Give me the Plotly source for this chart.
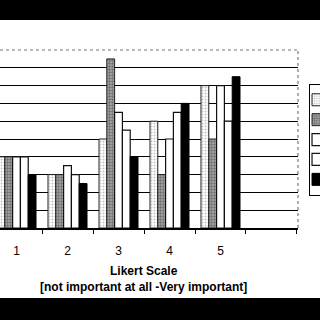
import plotly.graph_objects as go

categories = [1, 2, 3, 4, 5]
tick_labels = ["1", "2", "3", "4", "5"]
# legend labels lie outside the cropped picture in the reference, so they are blank
series_names = [" ", "  ", "   ", "    ", "     "]
s1 = [4, 3, 5, 6, 8]
s2 = [4, 3, 9.5, 3, 5]
s3 = [4, 3.5, 6.5, 5, 8]
s4 = [4, 3, 5.5, 6.5, 6]
s5 = [3, 2.5, 4, 7, 8.5]
values = [s1, s2, s3, s4, s5]

styles = [
    dict(color="#f2f2f2", line=dict(color="#222", width=1),
         pattern=dict(shape=".", fgcolor="#888", bgcolor="#ffffff", size=3, solidity=0.35)),
    dict(color="#777", line=dict(color="#222", width=1),
         pattern=dict(shape=".", fgcolor="#333", bgcolor="#aaaaaa", size=3, solidity=0.5)),
    dict(color="#ffffff", line=dict(color="#111", width=1.2)),
    dict(color="#ffffff", line=dict(color="#111", width=1.2)),
    dict(color="#000000", line=dict(color="#000", width=1)),
]

fig = go.Figure()
for name, vals, st in zip(series_names, values, styles):
    fig.add_trace(go.Bar(x=categories, y=vals, name=name, marker=st))

fig.update_layout(
    width=320, height=320,
    margin=dict(l=0, r=22, t=50, b=92, autoexpand=False),
    paper_bgcolor="white", plot_bgcolor="white",
    barmode="group", bargap=0.235, bargroupgap=0,
    font=dict(family="Liberation Sans, Arial", color="black", size=12),
    showlegend=True,
    legend=dict(x=1.037, xanchor="left", y=0.81, yanchor="top",
                bordercolor="black", borderwidth=1, bgcolor="white",
                font=dict(size=13), indentation=-12, itemwidth=30),
    xaxis=dict(range=[0.676, 6.52], tickmode="array", tickvals=categories,
               ticktext=tick_labels, ticks="", showgrid=False, zeroline=False,
               showline=True, linecolor="black", linewidth=1.5,
               ticklabelstandoff=11,
               minor=dict(tickmode="array", tickvals=[1.5, 2.5, 3.5, 4.5, 5.5, 6.5],
                          ticks="outside", ticklen=4, tickcolor="black", showgrid=False),
               tickfont=dict(size=12)),
    yaxis=dict(range=[0, 10], tickmode="array", tickvals=[1, 2, 3, 4, 5, 6, 7, 8, 9],
               showticklabels=False, showgrid=True, gridcolor="black", gridwidth=1.3,
               zeroline=False, showline=False),
    shapes=[
        dict(type="line", xref="paper", yref="paper", x0=0, x1=1, y0=1, y1=1,
             line=dict(color="#777", width=1.2, dash="dot")),
        dict(type="line", xref="paper", yref="paper", x0=1, x1=1, y0=0, y1=1,
             line=dict(color="#777", width=1.2, dash="dot")),
        dict(type="rect", xref="paper", yref="paper", x0=-0.05, x1=1.15, y0=1.1685, y1=1.3,
             fillcolor="black", line=dict(width=0), layer="above"),
        dict(type="rect", xref="paper", yref="paper", x0=-0.05, x1=1.15, y0=-0.55, y1=-0.393,
             fillcolor="black", line=dict(width=0), layer="above"),
    ],
    annotations=[
        dict(text="<b>Likert Scale</b>", xref="paper", yref="paper", x=0.483, y=-0.242,
             xanchor="center", yanchor="middle",
             showarrow=False, font=dict(size=12, family="Liberation Sans, Arial")),
        dict(text="<b>[not important at all -Very important]</b>", xref="paper", yref="paper",
             x=0.482, y=-0.333, xanchor="center", yanchor="middle",
             showarrow=False, font=dict(size=12, family="Liberation Sans, Arial")),
    ],
)

fig.write_html("out.html")
